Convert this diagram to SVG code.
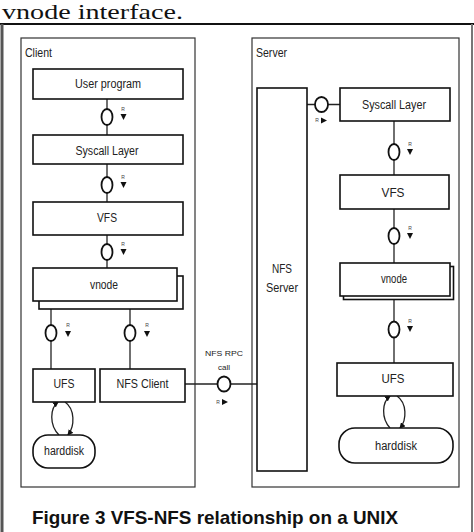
<svg xmlns="http://www.w3.org/2000/svg" width="474" height="532" viewBox="0 0 474 532">
<style>
.frame{fill:none;stroke:#333;stroke-width:1.2}
.box{fill:#fff;stroke:#111;stroke-width:1.6}
.ln{fill:none;stroke:#222;stroke-width:1.3}
.ifc{fill:#fff;stroke:#111;stroke-width:1.8}
.t{font-family:"Liberation Sans",Arial,sans-serif;font-size:12px;fill:#222;text-anchor:middle}
.s{font-family:"Liberation Sans",Arial,sans-serif;font-size:7.5px;fill:#222;text-anchor:middle}
.r{font-family:"Liberation Sans",Arial,sans-serif;font-size:5px;fill:#444;text-anchor:middle}
.tri{fill:#111}
</style>
<defs>
<marker id="ah" markerWidth="6" markerHeight="6" refX="5" refY="3" orient="auto" markerUnits="userSpaceOnUse"><path d="M0,0 L6,3 L0,6 z" fill="#111"/></marker>
</defs>
<text x="2" y="19" font-family="'Liberation Serif','DejaVu Serif',serif" font-size="22" textLength="181" lengthAdjust="spacingAndGlyphs" fill="#111">vnode interface.</text>
<line x1="0" y1="24" x2="474" y2="24" stroke="#111" stroke-width="2"/>
<line x1="2" y1="24" x2="2" y2="532" stroke="#555" stroke-width="3"/>
<line x1="472" y1="24" x2="472" y2="532" stroke="#777" stroke-width="2"/>
<text x="32" y="524" font-family="'Liberation Sans',Arial,sans-serif" font-weight="bold" font-size="19" textLength="366" lengthAdjust="spacingAndGlyphs" fill="#111">Figure 3 VFS-NFS relationship on a UNIX</text>

<g id="client">
<rect class="frame" x="21" y="38" width="174" height="449"/>
<text class="t" x="38.5" y="57" textLength="27" lengthAdjust="spacingAndGlyphs">Client</text>
</g>
<g id="server">
<rect class="frame" x="252" y="38" width="207" height="449"/>
<text class="t" x="271.5" y="57" textLength="31" lengthAdjust="spacingAndGlyphs">Server</text>
</g>

<g id="connectors">
<line class="ln" x1="107" y1="99" x2="107" y2="135"/>
<line class="ln" x1="107" y1="164" x2="107" y2="202"/>
<line class="ln" x1="107" y1="235" x2="107" y2="268"/>
<line class="ln" x1="51" y1="301" x2="51" y2="369"/>
<line class="ln" x1="130" y1="301" x2="130" y2="369"/>
<line class="ln" x1="185" y1="384" x2="257" y2="384"/>
<line class="ln" x1="307" y1="104.5" x2="340" y2="104.5"/>
<line class="ln" x1="394" y1="121" x2="394" y2="175"/>
<line class="ln" x1="394" y1="209" x2="394" y2="263"/>
<line class="ln" x1="394" y1="296" x2="394" y2="363"/>
<ellipse class="ifc" cx="107" cy="117" rx="5.5" ry="8"/>
<ellipse class="ifc" cx="107" cy="185" rx="5.5" ry="8"/>
<ellipse class="ifc" cx="107" cy="252" rx="5.5" ry="8"/>
<ellipse class="ifc" cx="51" cy="333" rx="5.5" ry="8"/>
<ellipse class="ifc" cx="130" cy="333" rx="5.5" ry="8"/>
<ellipse class="ifc" cx="224" cy="384" rx="6.5" ry="7.5"/>
<ellipse class="ifc" cx="321.5" cy="104.5" rx="6.5" ry="7.5"/>
<ellipse class="ifc" cx="394" cy="152" rx="5.5" ry="8"/>
<ellipse class="ifc" cx="394" cy="236" rx="5.5" ry="8"/>
<ellipse class="ifc" cx="394" cy="329.5" rx="5.5" ry="8"/>
<text class="r" x="123" y="111">R</text><path class="tri" d="M120.5,114 L126.5,114 L123.5,120 z"/>
<text class="r" x="123" y="179">R</text><path class="tri" d="M120.5,182 L126.5,182 L123.5,188 z"/>
<text class="r" x="123" y="246">R</text><path class="tri" d="M120.5,249 L126.5,249 L123.5,255 z"/>
<text class="r" x="68" y="327">R</text><path class="tri" d="M65,331 L71,331 L68,337 z"/>
<text class="r" x="147" y="327">R</text><path class="tri" d="M144,331 L150,331 L147,337 z"/>
<text class="r" x="410" y="146">R</text><path class="tri" d="M407,149 L413,149 L410,155 z"/>
<text class="r" x="410" y="230">R</text><path class="tri" d="M407,233 L413,233 L410,239 z"/>
<text class="r" x="410" y="323">R</text><path class="tri" d="M407,326 L413,326 L410,332 z"/>
<text class="r" x="317" y="122">R</text><path class="tri" d="M321,117.5 L327,120.5 L321,123.5 z"/>
<text class="r" x="218" y="404">R</text><path class="tri" d="M222,399 L228,402 L222,405 z"/>
<text class="s" x="224" y="356" textLength="38" lengthAdjust="spacingAndGlyphs">NFS RPC</text>
<text class="s" x="224" y="370" textLength="12" lengthAdjust="spacingAndGlyphs">call</text>
<path class="ln" d="M59,435 C49,425 50,408 58,402" marker-end="url(#ah)"/>
<path class="ln" d="M65,402 C75,409 75,426 68,435" marker-end="url(#ah)"/>
<path class="ln" d="M390,428 C381,418 382,402 390,396" marker-end="url(#ah)"/>
<path class="ln" d="M397,396 C407,403 407,420 400,428" marker-end="url(#ah)"/>
</g>

<g id="user-program"><rect class="box" x="33" y="69" width="150" height="30"/><text class="t" x="108" y="88" textLength="66" lengthAdjust="spacingAndGlyphs">User program</text></g>
<g id="client-syscall"><rect class="box" x="33" y="135" width="150" height="29"/><text class="t" x="107" y="155" textLength="63" lengthAdjust="spacingAndGlyphs">Syscall Layer</text></g>
<g id="client-vfs"><rect class="box" x="33" y="202" width="150" height="33"/><text class="t" x="107" y="222" textLength="20" lengthAdjust="spacingAndGlyphs">VFS</text></g>
<g id="client-vnode"><rect class="box" x="39" y="276" width="144" height="33"/><rect class="box" x="33" y="268" width="144" height="33"/><text class="t" x="104" y="289" textLength="28" lengthAdjust="spacingAndGlyphs">vnode</text></g>
<g id="client-ufs"><rect class="box" x="33" y="369" width="62" height="33"/><text class="t" x="64" y="388" textLength="21" lengthAdjust="spacingAndGlyphs">UFS</text></g>
<g id="nfs-client"><rect class="box" x="100" y="369" width="85" height="33"/><text class="t" x="142.5" y="388" textLength="52" lengthAdjust="spacingAndGlyphs">NFS Client</text></g>
<g id="client-harddisk"><rect class="box" x="33" y="435" width="62" height="33" rx="15" ry="15"/><text class="t" x="64" y="455" textLength="40" lengthAdjust="spacingAndGlyphs">harddisk</text></g>

<g id="nfs-server"><rect class="box" x="257" y="88" width="50" height="383"/><text class="t" x="282" y="273" textLength="20" lengthAdjust="spacingAndGlyphs">NFS</text><text class="t" x="282" y="292" textLength="32" lengthAdjust="spacingAndGlyphs">Server</text></g>
<g id="server-syscall"><rect class="box" x="340" y="88" width="110" height="33"/><text class="t" x="394" y="109" textLength="64" lengthAdjust="spacingAndGlyphs">Syscall Layer</text></g>
<g id="server-vfs"><rect class="box" x="340" y="175" width="109" height="34"/><text class="t" x="393" y="197" textLength="23" lengthAdjust="spacingAndGlyphs">VFS</text></g>
<g id="server-vnode"><rect class="box" x="343.5" y="266.5" width="110" height="33"/><rect class="box" x="340" y="263" width="110" height="33"/><text class="t" x="394" y="283" textLength="26" lengthAdjust="spacingAndGlyphs">vnode</text></g>
<g id="server-ufs"><rect class="box" x="337" y="363" width="116" height="33"/><text class="t" x="393" y="383" textLength="23" lengthAdjust="spacingAndGlyphs">UFS</text></g>
<g id="server-harddisk"><rect class="box" x="339" y="428" width="114" height="35" rx="16" ry="16"/><text class="t" x="396" y="450" textLength="42" lengthAdjust="spacingAndGlyphs">harddisk</text></g>
</svg>
